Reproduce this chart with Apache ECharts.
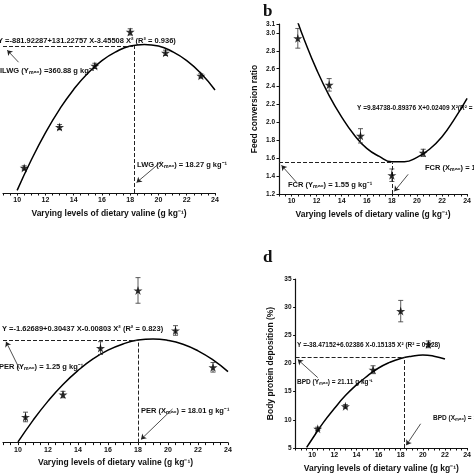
<!DOCTYPE html>
<html>
<head>
<meta charset="utf-8">
<script src="https://cdn.jsdelivr.net/npm/echarts@6/dist/echarts.min.js"></script>
<style>html,body{margin:0;padding:0;background:#fff}#main{width:474px;height:474px}</style>
</head>
<body>
<div id="main"></div>
<script>
// measured treatment levels (g/kg)
const levels = [10.5, 13, 15.5, 18, 20.5, 23];
const curveX = [10, 11, 12, 13, 14, 15, 16, 17, 18, 19, 20, 21, 22, 23, 24];

// a: live weight gain
const lwgVals = [128, 206, 323, 388, 348, 304];
const lwgErr = [4, 5, 5, 6, 5, 4];
const lwgCurve = [85, 143, 195, 240, 278, 309, 333, 350, 361, 364, 361, 350, 333, 309, 277];
// b: feed conversion ratio
const fcrVals = [2.94, 2.42, 1.85, 1.41, 1.66];
const fcrErr = [0.11, 0.07, 0.08, 0.07, 0.04];
const fcrCurveX = [10.5, 11, 12, 13, 14, 15, 16, 17, 18, 19, 20, 21, 22, 23, 24];
const fcrCurve = [3.12, 2.93, 2.59, 2.30, 2.06, 1.86, 1.71, 1.62, 1.56, 1.56, 1.61, 1.70, 1.84, 2.04, 2.27];
// c: protein efficiency ratio
const perVals = [0.77, 0.91, 1.20, 1.56, 1.31, 1.08];
const perErr = [0.03, 0.02, 0.04, 0.08, 0.03, 0.03];
const perCurve = [0.614, 0.749, 0.869, 0.973, 1.060, 1.132, 1.187, 1.226, 1.250, 1.257, 1.248, 1.224, 1.183, 1.126, 1.053];
// d: body protein deposition
const bpdVals = [8.4, 12.4, 18.9, 29.3, 23.4];
const bpdErr = [0.3, 0.3, 0.7, 1.9, 0.6];
const bpdCurveX = [9.5, 10, 11, 12, 13, 14, 15, 16, 17, 18, 19, 20, 21, 22];
const bpdCurve = [5.1, 6.6, 9.5, 12.0, 14.3, 16.2, 17.8, 19.2, 20.2, 20.9, 21.3, 21.5, 21.3, 20.8];

const xName = 'Varying levels of dietary valine (g kg\u207B\u00B9)';
const F = 'Liberation Sans';
const chart = echarts.init(document.getElementById('main'));

const grids = [
  { left: -2.5, top: 25.6, width: 217.5, height: 167.4 },
  { left: 279, top: 24, width: 229.5, height: 170 },
  { left: -2.4, top: 268, width: 230.4, height: 174.6 },
  { left: 295.6, top: 279, width: 211.3, height: 169 }
];
const xMins = [9, 9, 9, 8.5];
const yCfg = [
  { min: 80, max: 400, show: false },
  { min: 1.2, max: 3.1, show: true, interval: 0.2, name: 'Feed conversion ratio', fmt: v => v.toFixed(1) },
  { min: 0.61, max: 1.7, show: false },
  { min: 5, max: 35, show: true, interval: 5, name: 'Body protein deposition (%)', fmt: v => v }
];

const xAxes = grids.map((g, i) => ({
  type: 'value', gridIndex: i, min: xMins[i], max: 24, interval: 0.5,
  name: xName, nameLocation: 'middle', nameGap: 16,
  nameTextStyle: { fontFamily: F, fontWeight: 'bold', fontSize: 8.5, color: '#111' },
  axisLine: { lineStyle: { color: '#111', width: 1.2 } },
  axisTick: { length: 2.5, inside: false, lineStyle: { color: '#111' } },
  splitLine: { show: false },
  axisLabel: { fontFamily: F, fontWeight: 'bold', fontSize: 7, color: '#111', margin: 4,
    formatter: v => (Math.abs(v % 2) < 1e-6 ? v : '') }
}));
const yAxes = yCfg.map((c, i) => ({
  type: 'value', gridIndex: i, min: c.min, max: c.max, interval: c.interval,
  name: c.name || '', nameLocation: 'middle', nameGap: 20,
  nameTextStyle: { fontFamily: F, fontWeight: 'bold', fontSize: 8.5, color: '#111' },
  axisLine: { show: c.show, lineStyle: { color: '#111', width: 1.2 } },
  axisTick: { show: c.show, length: 2.5, lineStyle: { color: '#111' } },
  axisLabel: { show: c.show, fontFamily: F, fontWeight: 'bold', fontSize: 6.5, color: '#111', margin: 4, formatter: c.fmt },
  splitLine: { show: false }
}));

const star = 'path://M50,0 L61,35 L98,35 L68,57 L79,91 L50,70 L21,91 L32,57 L2,35 L39,35 Z';
const dash = { type: 'dashed', color: '#222', width: 1 };

function panel(i, xs, vals, errs, cx, cy, lines, arrows) {
  const pts = vals.map((v, k) => [xs[k], v, errs[k]]);
  return [
    {
      type: 'line', xAxisIndex: i, yAxisIndex: i, data: cx.map((x, k) => [x, cy[k]]),
      smooth: true, showSymbol: false, lineStyle: { color: '#000', width: 1.5 }, z: 3,
      markLine: {
        silent: true, symbol: 'none', label: { show: false }, lineStyle: dash,
        data: lines.map(l => [{ coord: l[0] }, { coord: l[1] }]).concat(
          arrows.map(a => [{ coord: a[0], symbol: 'none' }, { coord: a[1], symbol: 'arrow', symbolSize: 5,
            lineStyle: { type: 'solid', width: 0.8, color: '#222' } }]))
      }
    },
    {
      type: 'custom', xAxisIndex: i, yAxisIndex: i, data: pts, z: 4,
      renderItem: (p, api) => {
        const x = api.value(0), y = api.value(1), e = api.value(2);
        const t = api.coord([x, y + e]), b = api.coord([x, y - e]);
        const st = { stroke: '#333', lineWidth: 0.8 };
        return { type: 'group', children: [
          { type: 'line', shape: { x1: t[0], y1: t[1], x2: b[0], y2: b[1] }, style: st },
          { type: 'line', shape: { x1: t[0] - 2.5, y1: t[1], x2: t[0] + 2.5, y2: t[1] }, style: st },
          { type: 'line', shape: { x1: b[0] - 2.5, y1: b[1], x2: b[0] + 2.5, y2: b[1] }, style: st }
        ] };
      }
    },
    {
      type: 'scatter', xAxisIndex: i, yAxisIndex: i, data: pts.map(p => [p[0], p[1]]),
      symbol: star, symbolSize: 9, itemStyle: { color: '#000' }, z: 5
    }
  ];
}

const series = [].concat(
  panel(0, levels, lwgVals, lwgErr, curveX, lwgCurve,
    [[[9, 360.88], [18.27, 360.88]], [[18.27, 80], [18.27, 360.88]]],
    [[[10.1, 330], [9.3, 353]], [[20.2, 140], [18.45, 100]]]),
  panel(1, levels.slice(0, 5), fcrVals, fcrErr, fcrCurveX, fcrCurve,
    [[[9, 1.55], [18, 1.55]], [[18, 1.2], [18, 1.55]]],
    [[[10.4, 1.33], [9.2, 1.52]], [[19.3, 1.42], [18.2, 1.23]]]),
  panel(2, levels, perVals, perErr, curveX, perCurve,
    [[[9, 1.25], [18.01, 1.25]], [[18.01, 0.61], [18.01, 1.25]]],
    [[[10.1, 1.07], [9.2, 1.24]], [[20.3, 0.82], [18.2, 0.63]]]),
  panel(3, levels.slice(0, 5), bpdVals, bpdErr, bpdCurveX, bpdCurve,
    [[[8.5, 21.11], [18.3, 21.11]], [[18.3, 5], [18.3, 21.11]]],
    [[[10.5, 17.5], [8.7, 20.7]], [[19.8, 9.3], [18.5, 5.5]]])
);

function txt(x, y, s, size, extra) {
  return Object.assign({ type: 'text', x: x, y: y,
    style: { text: s, fontFamily: F, fontWeight: 'bold', fontSize: size || 7.5, fill: '#111', textVerticalAlign: 'middle' } }, extra || {});
}
const M = '\u2098\u2090\u2093';
const graphic = [
  txt(-2, 41, 'Y =-881.92287+131.22757 X-3.45508 X\u00B2 (R\u00B2 = 0.936)'),
  txt(0, 71, 'ILWG (Y' + M + ') =360.88 g kg\u207B\u00B9'),
  txt(137, 165, 'LWG (X' + M + ') = 18.27 g kg\u207B\u00B9'),
  { type: 'text', x: 263, y: 12, style: { text: 'b', fontFamily: 'Liberation Serif', fontWeight: 'bold', fontSize: 17, fill: '#111', textVerticalAlign: 'middle' } },
  txt(357, 108, 'Y =9.84738-0.89376 X+0.02409 X\u00B2(R\u00B2 = 0.9', 6.5),
  txt(288, 185, 'FCR (Y' + M + ') = 1.55 g kg\u207B\u00B9'),
  txt(425, 168, 'FCR (X' + M + ') = 18.55 g kg\u207B\u00B9'),
  txt(2, 329, 'Y =-1.62689+0.30437 X-0.00803 X\u00B2 (R\u00B2 = 0.823)'),
  txt(-1, 367, 'PER (Y' + M + ') = 1.25 g kg\u207B\u00B9'),
  txt(141, 411, 'PER (X' + M + ') = 18.01 g kg\u207B\u00B9'),
  { type: 'text', x: 263, y: 258, style: { text: 'd', fontFamily: 'Liberation Serif', fontWeight: 'bold', fontSize: 17, fill: '#111', textVerticalAlign: 'middle' } },
  txt(297, 345, 'Y =-38.47152+6.02386 X-0.15135 X\u00B2 (R\u00B2 = 0.928)', 6.5),
  txt(297, 382, 'BPD (Y' + M + ') = 21.11 g kg\u207B\u00B9', 6.5),
  txt(433, 418, 'BPD (X' + M + ') = 18.29 g kg\u207B\u00B9', 6.5)
];

chart.setOption({
  animation: false,
  grid: grids,
  xAxis: xAxes,
  yAxis: yAxes,
  series: series,
  graphic: graphic
});
</script>
</body>
</html>
